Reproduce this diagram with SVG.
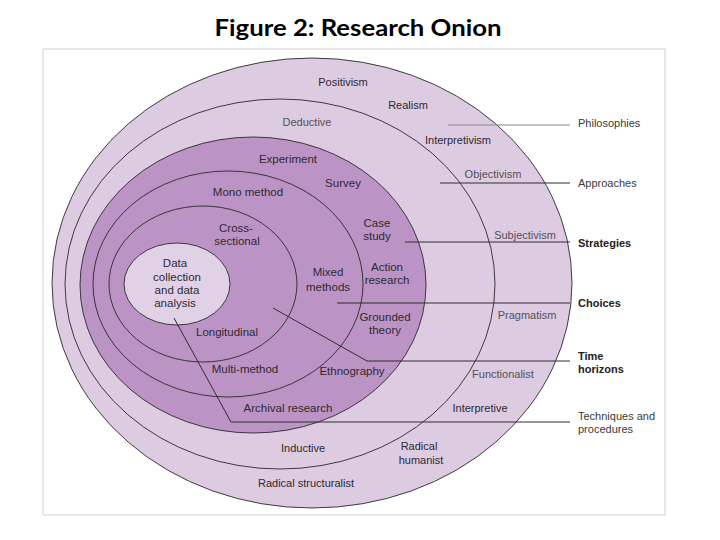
<svg xmlns="http://www.w3.org/2000/svg" width="720" height="540" viewBox="0 0 720 540">
<style>
text{font-family:"Liberation Sans",Arial,sans-serif;font-size:11px;fill:#2e2a30;text-anchor:middle}
.lt{fill:#555058}
.rl{text-anchor:start;fill:#3a3a3a}
.b{font-weight:bold;fill:#222}
.ring{stroke:#2a2a2a;stroke-width:0.9}
.lead{fill:none;stroke:#2e2e2e;stroke-width:1}
.big{font-size:11.5px}
</style>
<rect x="0" y="0" width="720" height="540" fill="#ffffff"/>
<text x="358" y="36" style="font-family:Lato,'Liberation Sans',sans-serif;font-size:23px;font-weight:bold;fill:#000" textLength="287" lengthAdjust="spacingAndGlyphs">Figure 2: Research Onion</text>
<rect x="43" y="49" width="622" height="466" fill="#ffffff" stroke="#cfcfcf" stroke-width="1"/>

<g id="philosophies-ring">
<ellipse class="ring" cx="312" cy="283" rx="260" ry="225" fill="#dccbe1"/>
<text x="343" y="86">Positivism</text>
<text x="408" y="109">Realism</text>
<text x="458" y="144">Interpretivism</text>
<text class="lt" x="493" y="178">Objectivism</text>
<text class="lt" x="525" y="239">Subjectivism</text>
<text class="lt" x="527" y="319">Pragmatism</text>
<text class="lt" x="503" y="378">Functionalist</text>
<text x="480" y="412">Interpretive</text>
<text x="419" y="450">Radical</text>
<text x="421" y="464">humanist</text>
<text x="306" y="487">Radical structuralist</text>
</g>
<g id="approaches-ring">
<ellipse class="ring" cx="280" cy="284" rx="215" ry="185" fill="#dccbe1"/>
<text class="lt" x="307" y="126">Deductive</text>
<text x="303" y="452">Inductive</text>
</g>
<g id="strategies-ring">
<ellipse class="ring" cx="253" cy="285" rx="173" ry="148" fill="#bc93c5"/>
<text class="big" x="288" y="163">Experiment</text>
<text class="big" x="343" y="187">Survey</text>
<text class="big" x="377" y="227">Case</text>
<text class="big" x="377" y="240">study</text>
<text class="big" x="387" y="271">Action</text>
<text class="big" x="387" y="284">research</text>
<text class="big" x="385" y="321">Grounded</text>
<text class="big" x="385" y="334">theory</text>
<text class="big" x="352" y="375">Ethnography</text>
<text class="big" x="288" y="412">Archival research</text>
</g>
<g id="choices-ring">
<ellipse class="ring" cx="228" cy="284" rx="135" ry="113" fill="#bc93c5"/>
<text class="big" x="248" y="196">Mono method</text>
<text class="big" x="328" y="276">Mixed</text>
<text class="big" x="328" y="291">methods</text>
<text class="big" x="245" y="373">Multi-method</text>
</g>
<g id="time-horizons-ring">
<ellipse class="ring" cx="203" cy="284" rx="94" ry="78" fill="#bc93c5"/>
<text class="big" x="236" y="232">Cross-</text>
<text class="big" x="237" y="245">sectional</text>
<text class="big" x="227" y="336">Longitudinal</text>
</g>
<g id="techniques-core">
<ellipse class="ring" cx="177" cy="284" rx="53" ry="41" fill="#e1d1e6"/>
<text class="big" x="175" y="267">Data</text>
<text class="big" x="177" y="281">collection</text>
<text class="big" x="177" y="294">and data</text>
<text class="big" x="175" y="307">analysis</text>
</g>

<g id="connectors">
<line class="lead" x1="448" y1="125" x2="570" y2="125" style="stroke:#8a8a8a"/>
<line class="lead" x1="440" y1="183" x2="570" y2="183"/>
<line class="lead" x1="405" y1="242" x2="570" y2="242"/>
<line class="lead" x1="337" y1="303" x2="570" y2="303"/>
<polyline class="lead" points="273,308 367,361 570,361"/>
<polyline class="lead" points="174,318 231,422 570,422"/>
</g>

<g id="labels">
<text class="rl" x="578" y="127">Philosophies</text>
<text class="rl" x="578" y="187">Approaches</text>
<text class="rl b" x="578" y="247">Strategies</text>
<text class="rl b" x="578" y="307">Choices</text>
<text class="rl b" x="578" y="360">Time</text>
<text class="rl b" x="578" y="373">horizons</text>
<text class="rl" x="578" y="420">Techniques and</text>
<text class="rl" x="578" y="433">procedures</text>
</g>
</svg>
